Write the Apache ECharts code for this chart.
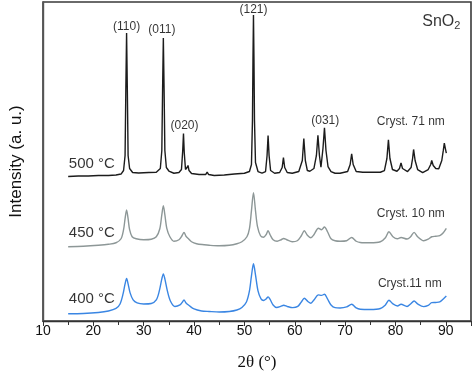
<!DOCTYPE html>
<html>
<head>
<meta charset="utf-8">
<script src="https://cdn.jsdelivr.net/npm/echarts@6/dist/echarts.min.js"></script>
<style>
  html, body { margin: 0; padding: 0; background: #fff; }
  #chart { width: 474px; height: 376px; }
</style>
</head>
<body>
<div id="chart"></div>
<script>
// 2θ (deg) / intensity (a.u.) pairs
const xrd500 = [
  [15,144],[17,144.5],[19,144.5],[21,145],[23,145],[24.5,145.5],[25.5,146.5],[26.0,150],[26.3,165],[26.45,230],[26.6,287],[26.75,230],[26.9,165],[27.2,152],[27.8,148],[29,147.5],[31,148],[32.5,148.3],[33.3,152],[33.6,170],[33.75,230],[33.9,282],[34.05,230],[34.2,170],[34.5,153],[35,149.5],[36,147.3],[37,148],[37.5,151],[37.75,170],[37.9,187],[38.05,168],[38.3,151],[38.6,153],[38.8,155],[39.0,150],[39.5,147],[41,146],[42.3,146],[42.6,148.5],[42.9,146],[44,145],[46,145.5],[48,146.5],[50,147.3],[51,149],[51.4,156],[51.6,200],[51.7,260],[51.8,305],[51.9,260],[52.0,200],[52.2,158],[52.7,149],[53.5,147.5],[54.2,149],[54.5,165],[54.7,185],[54.9,165],[55.2,150],[56,147.3],[57,148],[57.5,153],[57.75,163],[58.0,153],[58.5,148],[59.5,147.3],[60.8,149],[61.5,160],[61.8,182],[62.1,160],[62.5,150],[63.0,149.3],[63.8,152],[64.3,165],[64.6,185],[64.9,165],[65.2,153.3],[65.6,172],[65.9,192.7],[66.2,170],[66.6,154],[67.2,149],[68,147.3],[69,147.3],[70.5,149],[71.0,156],[71.3,166.7],[71.6,156],[72.2,149],[73.5,148.3],[75,148.3],[77,148.3],[77.8,150],[78.3,162],[78.6,180.7],[78.9,162],[79.4,151],[80.3,149.3],[80.8,152],[81.1,157.7],[81.4,152],[82.4,149],[83.1,153],[83.4,162],[83.6,171],[83.9,160],[84.4,151],[85.4,148],[86.5,151],[87.0,156],[87.2,160],[87.5,155],[88.0,152],[88.6,151.7],[89.2,160],[89.5,170],[89.7,177.3],[89.9,172],[90.1,167.3]
];
const xrd450 = [
  [15,74],[18,74.5],[21,75.5],[23,76.5],[24.5,78],[25.5,82],[26.0,91],[26.3,102],[26.6,110.7],[26.9,102],[27.2,91],[27.7,84],[28.5,82],[30,81],[31.5,81.5],[32.5,84],[33.2,92],[33.6,106],[33.9,115],[34.2,106],[34.6,92],[35.2,84],[36,79.5],[37,81],[37.6,85],[38.0,88.3],[38.4,84.5],[38.9,82],[39.5,79],[40.5,77],[42,76],[43,75.5],[45,75],[47,75.5],[48.5,77],[49.5,79],[50.5,84],[51.0,92],[51.4,110],[51.8,128],[52.2,110],[52.6,94],[53.2,85],[53.8,83.5],[54.3,86],[54.7,90],[55.1,86],[55.7,81],[56.5,79.5],[57.3,81],[57.8,82.3],[58.4,81],[59.5,79],[60.5,80],[61.3,85],[61.9,90],[62.5,85.5],[63.2,83],[63.8,86],[64.7,92.5],[65.3,91],[65.9,93.7],[66.5,89],[67.2,82],[68,80],[69,79.5],[70.3,80],[71.3,83.3],[72.2,79.5],[73,78.3],[75,78],[77,79],[78,83],[78.7,89],[79.5,84],[80.4,82],[81.1,83.3],[82.3,81.7],[83.0,84],[83.7,88.3],[84.4,84],[85.6,80],[86.5,81.5],[87.2,84],[88.0,84.5],[88.8,85],[89.5,88],[90.1,92.3]
];
const xrd400 = [
  [15,7.3],[18,7.5],[21,8.5],[23,10],[24.5,12.5],[25.3,17],[25.9,27],[26.3,37],[26.6,42.3],[26.9,37],[27.3,28],[27.9,21],[28.7,18],[30,17],[31.5,17.5],[32.5,21],[33.1,30],[33.6,42],[33.9,47],[34.2,42],[34.7,30],[35.3,20],[36.2,14.5],[37.2,16],[37.7,19],[38.0,21],[38.4,18],[39,15.5],[40,12],[41.5,10],[43,9.5],[45,9],[47,9.5],[48.5,11],[49.5,13.5],[50.4,19],[51.0,30],[51.4,45],[51.8,57],[52.2,46],[52.7,30],[53.3,22],[53.8,20.5],[54.3,22],[54.7,24],[55.1,21.5],[55.7,16],[56.4,13.5],[57.2,14.5],[57.8,15.7],[58.5,14.5],[59.6,13.3],[60.6,14.5],[61.3,19],[61.9,22.7],[62.6,19.5],[63.2,17.7],[63.8,21],[64.7,26],[65.3,25.5],[65.9,26.7],[66.5,22],[67.2,16],[68,13.3],[69,13],[70.3,14],[71.3,16.7],[72.2,13],[73,11.7],[75,11.5],[77,12.5],[78,16],[78.7,20.7],[79.5,17],[80.4,15],[81.1,16.7],[82.3,14.5],[83.0,17],[83.7,20],[84.4,17],[85.6,14.3],[86.5,15.5],[87.2,18.3],[88.0,18.5],[88.8,19],[89.5,22],[90.1,25]
];

// reflections and other notes: [text, 2θ, intensity]
const peakLabels = [
  ["(110)", 26.6, 293], ["(011)", 33.6, 290], ["(020)", 38.1, 195],
  ["(121)", 51.8, 310], ["(031)", 66.05, 200]
];
const crystLabels = [
  ["Cryst. 71 nm", 83.05, 199], ["Cryst. 10 nm", 83.05, 107], ["Cryst.11 nm", 82.85, 37]
];
const tempLabels = [
  ["500 °C", 19.7, 157], ["450 °C", 19.7, 88], ["400 °C", 19.7, 22]
];
const titleLabel = ["{a|SnO}{b|2}", 89.1, 298];

const xTicks = [10, 20, 30, 40, 50, 60, 70, 80, 90];

const myChart = echarts.init(document.getElementById("chart"));

const note = (arr, size) => arr.map((d) => ({
  name: d[0],
  value: [d[1], d[2]],
  label: { fontSize: size, color: "#000" }
}));

myChart.setOption({
  animation: false,
  grid: {
    left: 36, right: 3, top: 2, bottom: 55,
    show: true, borderColor: "#3a3a3a", borderWidth: 1.6
  },
  xAxis: {
    type: "value",
    min: 10, max: 95, interval: 10,
    name: "2θ (°)",
    nameLocation: "middle",
    nameGap: 33,
    nameTextStyle: { fontFamily: "Liberation Serif", fontSize: 17, color: "#111" },
    axisLine: { show: true, onZero: false, lineStyle: { color: "#333", width: 1.4 } },
    axisTick: { show: true, inside: false, length: 5, lineStyle: { color: "#333" } },
    minorTick: { show: true, splitNumber: 2, length: 4, lineStyle: { color: "#333" } },
    splitLine: { show: false },
    axisLabel: {
      margin: 3, fontSize: 14, color: "#111", fontFamily: "Liberation Sans",
      formatter: (v) => (xTicks.includes(v) ? String(v) : "")
    }
  },
  yAxis: {
    type: "value",
    min: 0, max: 318,
    name: "Intensity (a. u.)",
    nameLocation: "middle",
    nameGap: 18,
    nameTextStyle: { fontFamily: "Liberation Sans", fontSize: 17, color: "#111" },
    axisLine: { show: true, lineStyle: { color: "#555", width: 1.4 } },
    axisTick: { show: false },
    axisLabel: { show: false },
    splitLine: { show: false }
  },
  series: [
    {
      name: "500 °C", type: "line", data: xrd500, showSymbol: false,
      lineStyle: { color: "#1c1c1c", width: 1.4 }, silent: true
    },
    {
      name: "450 °C", type: "line", data: xrd450, showSymbol: false, smooth: 0.3,
      lineStyle: { color: "#8d9797", width: 1.4 }, silent: true
    },
    {
      name: "400 °C", type: "line", data: xrd400, showSymbol: false, smooth: 0.3,
      lineStyle: { color: "#3a86e3", width: 1.4 }, silent: true
    },
    {
      name: "notes", type: "scatter", symbolSize: 0, silent: true,
      itemStyle: { color: "#000" },
      label: {
        show: true, position: "inside", formatter: "{b}",
        color: "#000", fontFamily: "Liberation Sans"
      },
      data: [
        ...note(peakLabels, 12),
        ...note(crystLabels, 12),
        ...note(tempLabels, 15),
        {
          name: titleLabel[0], value: [titleLabel[1], titleLabel[2]],
          label: {
            rich: {
              a: { fontSize: 16, color: "#000", fontFamily: "Liberation Sans" },
              b: { fontSize: 11, color: "#000", fontFamily: "Liberation Sans", padding: [8, 0, 0, 0] }
            }
          }
        }
      ]
    }
  ]
});
</script>
</body>
</html>
